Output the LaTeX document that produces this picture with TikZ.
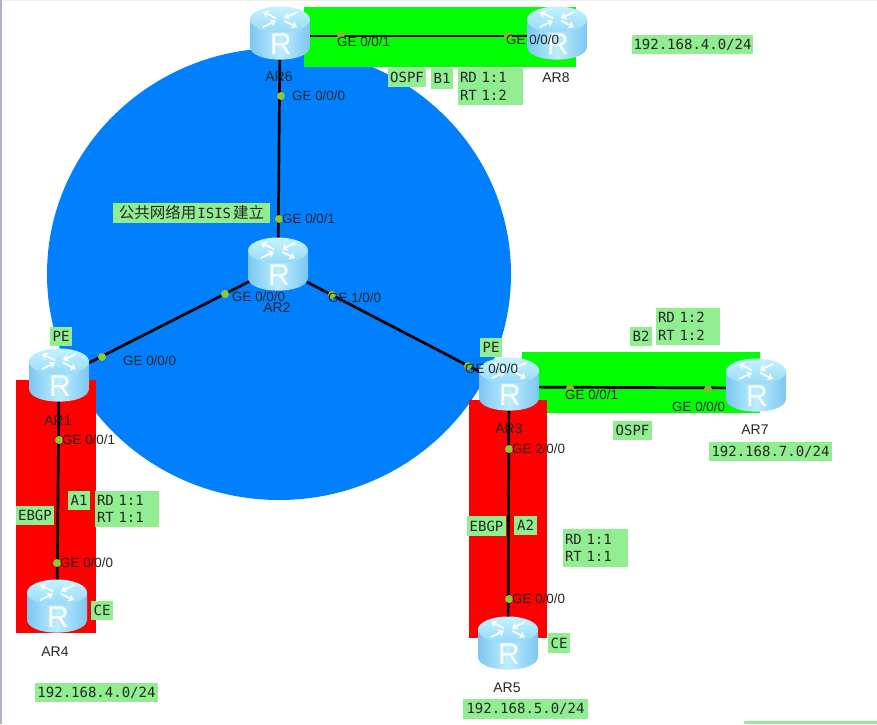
\documentclass[tikz,border=0pt]{standalone}
\usepackage{fontspec}
\setmainfont{Liberation Sans}
\setmonofont{DejaVu Sans Mono}
\newfontfamily\cjkfont{Noto Sans CJK SC}
\usetikzlibrary{arrows.meta}
\definecolor{lblgreen}{HTML}{90EE90}
\definecolor{portdot}{HTML}{8CCB2E}
\definecolor{portdim}{HTML}{80BE30}
\definecolor{netblue}{HTML}{0080FF}
\definecolor{vpnred}{HTML}{FF0000}
\definecolor{vpngreen}{HTML}{00FF00}
\definecolor{bodyedge}{HTML}{7CC6F2}
\definecolor{bodymid}{HTML}{BCEEFF}
\definecolor{toplight}{HTML}{C4F2FF}
\definecolor{topdark}{HTML}{96DAF8}
\tikzset{
  lbl/.style={fill=lblgreen,inner sep=0pt,align=left,font=\ttfamily\fontsize{14}{17.5}\selectfont,text=black!85},
  ge/.style={anchor=west,inner sep=0pt,font=\fontsize{13.4}{13.4}\selectfont,text=black!85},
  arname/.style={inner sep=0pt,font=\fontsize{14}{14}\selectfont,text=black!85},
  link/.style={draw=black,line width=2.7pt},
  portmark/.style={circle,fill=portdot,inner sep=0pt,minimum size=8pt},
  routernode/.style={inner sep=0pt,minimum width=60pt,minimum height=52pt},
  flowarrow/.style={draw=white,line width=1.8pt,-{Stealth[length=5.5pt,width=8pt]}},
  routericon/.pic={
    \begin{scope}[yshift=3pt]
    \path[left color=bodyedge,right color=bodyedge,middle color=bodymid]
      (-30,-13.5) -- (30,-13.5) -- (30,13.5) .. controls (30,31) and (-30,31) .. (-30,13.5) -- cycle;
    \path[top color=toplight,bottom color=topdark]
      (0,-13.5) ellipse [x radius=30,y radius=13];
    \begin{scope}[shift={(0,-13.5)},yscale=.42]
      \draw[flowarrow] (-4,-3) -- (-17,-18);
      \draw[flowarrow] (17,-18) -- (4,-3);
      \draw[flowarrow] (4,3) -- (17,18);
      \draw[flowarrow] (-17,18) -- (-4,3);
    \end{scope}
    \node[inner sep=0pt,text=white,font=\fontsize{30}{30}\selectfont] at (1,11) {R};
    \end{scope}
  }
}
\newcommand{\lblbox}[6]{\node[lbl,minimum width={#4-#2},minimum height={#5-#3}] (#1) at ({(#2+#4)/2},{(#3+#5)/2}) {#6};}
\newcommand{\rdbox}[6]{\node[lbl,text width={#4-#2-4},inner xsep=2pt,minimum height={#5-#3}] (#1) at ({(#2+#4)/2},{(#3+#5)/2}) {#6};}
\newcommand{\gelbl}[4]{\node[ge] (#1) at (#2,#3) {#4};}
\begin{document}
\begin{tikzpicture}[x=1pt,y=-1pt]
\useasboundingbox (0,0) rectangle (877,724);
\fill[white] (0,0) rectangle (877,724);
\fill[black!6] (0,0) rectangle (877,1);
\fill[blue!20!gray!50] (0,0) rectangle (2,724);
\fill[lblgreen] (744,721) rectangle (877,724);
% areas
\fill[netblue] (279,274) ellipse [x radius=232,y radius=226];
\fill[vpngreen] (304,7) rectangle (576,67);
\fill[vpngreen] (522,352) rectangle (760,413);
\fill[vpnred] (16,380) rectangle (96,633);
\fill[vpnred] (469,400) rectangle (547,638);
% router nodes
\node[routernode] (ar6) at (280,36) {};
\node[routernode] (ar8) at (557,36) {};
\node[routernode] (ar2) at (278,267) {};
\node[routernode] (ar1) at (59,378) {};
\node[routernode] (ar3) at (509,387) {};
\node[routernode] (ar7) at (756,388) {};
\node[routernode] (ar4) at (57,609) {};
\node[routernode] (ar5) at (508,646) {};
% links
\draw[link] (ar6.center) -- (ar8.center);
\draw[link] (ar6.center) -- (ar2.center);
\draw[link] (ar1.center) -- (ar2.center);
\draw[link] (ar2.center) -- (ar3.center);
\draw[link] (ar3.center) -- (ar7.center);
\draw[link] (ar1.center) -- (ar4.center);
\draw[link] (ar3.center) -- (ar5.center);
% port marks
\node[portmark,fill=portdim] (p1) at (341,35) {};
\node[portmark,fill=portdim] (p2) at (508,36) {};
\node[portmark] (p3) at (281,96) {};
\node[portmark] (p4) at (279,219) {};
\node[portmark] (p5) at (225,294) {};
\node[portmark] (p6) at (332,295) {};
\node[portmark] (p7) at (102,357) {};
\node[portmark,fill=portdim] (p8) at (468,366) {};
\node[portmark,fill=portdim] (p9) at (570,388) {};
\node[portmark,fill=portdim] (p10) at (708,389) {};
\node[portmark] (p11) at (59,440) {};
\node[portmark] (p12) at (509,449) {};
\node[portmark] (p13) at (57,563) {};
\node[portmark] (p14) at (509,599) {};
% routers
\foreach \r in {ar6,ar8,ar2,ar1,ar3,ar7,ar4,ar5} {\pic at (\r.center) {routericon};}
% labels
\lblbox{l1}{388}{68}{426}{87}{OSPF}
\lblbox{l2}{431}{68}{453}{89}{B1}
\rdbox{l3}{458}{68}{523}{105}{RD 1:1\\RT 1:2}
\lblbox{l4}{632}{35}{753}{54}{192.168.4.0/24}
\lblbox{l5}{50}{327}{72}{346}{PE}
\lblbox{l6}{480}{338}{502}{357}{PE}
\lblbox{l7}{630}{327}{652}{346}{B2}
\rdbox{l8}{656}{308}{720}{345}{RD 1:2\\RT 1:2}
\lblbox{l9}{613}{421}{652}{440}{OSPF}
\lblbox{l10}{709}{442}{832}{461}{192.168.7.0/24}
\lblbox{l11}{68}{491}{90}{510}{A1}
\rdbox{l12}{95}{491}{159}{527}{RD 1:1\\RT 1:1}
\lblbox{l13}{16}{506}{54}{525}{EBGP}
\lblbox{l14}{91}{601}{113}{620}{CE}
\lblbox{l15}{35}{683}{158}{702}{192.168.4.0/24}
\lblbox{l16}{467}{516}{506}{536}{EBGP}
\lblbox{l17}{514}{516}{537}{535}{A2}
\rdbox{l18}{563}{529}{628}{567}{RD 1:1\\RT 1:1}
\lblbox{l19}{548}{633}{570}{653}{CE}
\lblbox{l20}{463}{699}{588}{719}{192.168.5.0/24}
\lblbox{l21}{113}{203}{270}{223}{{\cjkfont\fontsize{15.5}{15.5}\selectfont 公共网络用}\hspace{1pt}ISIS\hspace{2pt}{\cjkfont\fontsize{15.5}{15.5}\selectfont 建立}}
% interface labels
\gelbl{g1}{337}{42}{GE 0/0/1}
\gelbl{g2}{506}{40}{GE 0/0/0}
\gelbl{g3}{292}{96}{GE 0/0/0}
\gelbl{g4}{282}{219}{GE 0/0/1}
\gelbl{g5}{232}{297}{GE 0/0/0}
\gelbl{g6}{328}{298}{GE 1/0/0}
\gelbl{g7}{123}{361}{GE 0/0/0}
\gelbl{g8}{465}{369}{GE 0/0/0}
\gelbl{g9}{565}{395}{GE 0/0/1}
\gelbl{g10}{672}{407}{GE 0/0/0}
\gelbl{g11}{62}{440}{GE 0/0/1}
\gelbl{g12}{512}{449}{GE 2/0/0}
\gelbl{g13}{60}{563}{GE 0/0/0}
\gelbl{g14}{512}{599}{GE 0/0/0}
% router names
\node[arname] (n6) at (279,77) {AR6};
\node[arname] (n8) at (556,78) {AR8};
\node[arname] (n2) at (277,308) {AR2};
\node[arname] (n1) at (58,421) {AR1};
\node[arname] (n3) at (509,429) {AR3};
\node[arname] (n7) at (755,430) {AR7};
\node[arname] (n4) at (55,652) {AR4};
\node[arname] (n5) at (507,688) {AR5};
\end{tikzpicture}
\end{document}
